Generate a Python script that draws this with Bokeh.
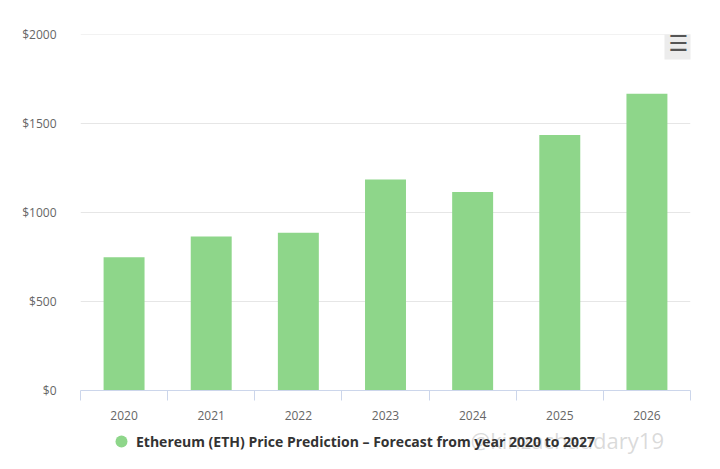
from bokeh.plotting import figure
from bokeh.layouts import column
from bokeh.models import ColumnDataSource, FixedTicker, PrintfTickFormatter, Legend, LegendItem, Label, Range1d
from bokeh.embed import file_html
from bokeh.resources import INLINE

years = ["2020", "2021", "2022", "2023", "2024", "2025", "2026"]
prices = [749, 866, 886, 1185, 1116, 1436, 1667]
y_ticks = [0, 500, 1000, 1500, 2000]
series_name = "Ethereum (ETH) Price Prediction \u2013 Forecast from year 2020 to 2027"
watermark = "@kinzachaudary19"

xpos = [i + 0.5 for i in range(len(years))]
src = ColumnDataSource(dict(x=xpos, y=prices, year=years))

FONT = "Open Sans"
GREEN = "#8ed68a"

p = figure(frame_width=610, frame_height=356, output_backend="svg", toolbar_location=None,
           x_range=Range1d(0, len(years)), y_range=Range1d(0, 2000.5),
           min_border_left=80, min_border_right=14, min_border_top=34, min_border_bottom=30)
p.outline_line_color = None
p.background_fill_color = "white"
p.border_fill_color = "white"

bars = p.vbar(x="x", top="y", width=0.47, source=src, fill_color=GREEN, line_color=None)

# x axis
xa = p.xaxis[0]
xa.ticker = FixedTicker(ticks=xpos, minor_ticks=list(range(len(years) + 1)))
xa.major_label_overrides = {x: y for x, y in zip(xpos, years)}
xa.major_tick_line_color = None
xa.major_tick_out = 0
xa.major_tick_in = 0
xa.minor_tick_out = 10
xa.minor_tick_in = 0
xa.minor_tick_line_color = "#ccd6eb"
xa.axis_line_color = "#ccd6eb"
xa.major_label_text_font = FONT
xa.major_label_text_font_size = "12px"
xa.major_label_text_color = "#666666"
xa.major_label_standoff = 10

# y axis
ya = p.yaxis[0]
ya.ticker = FixedTicker(ticks=y_ticks)
ya.formatter = PrintfTickFormatter(format="$%d")
ya.axis_line_color = None
ya.major_tick_line_color = None
ya.minor_tick_line_color = None
ya.major_label_text_font = FONT
ya.major_label_text_font_size = "12px"
ya.major_label_text_color = "#666666"
ya.major_label_standoff = 18

p.xgrid.grid_line_color = None
p.ygrid.grid_line_color = "#e6e6e6"
p.ygrid.ticker = FixedTicker(ticks=y_ticks)

menu = Label(x=584, y=331, x_units="screen", y_units="screen", text="\u2630",
             text_font="DejaVu Sans", text_font_size="22px", text_color="#555555",
             text_font_style="bold",
             background_fill_color="#ececec", border_line_color=None, padding=4)
p.add_layout(menu)

# legend strip below the chart (its frame is aligned with the chart frame)
lf = figure(width=704, height=40, output_backend="svg", toolbar_location=None,
            x_range=Range1d(-10, -9), y_range=Range1d(-10, -9),
            x_axis_location=None, y_axis_location=None, min_border=0)
lf.grid.visible = False
lf.outline_line_color = None
lf.border_fill_color = "white"
lf.background_fill_color = "white"
dot = lf.circle(x="x", y="y", radius=0, source=src, fill_color=GREEN, line_color=None)
legend = Legend(items=[LegendItem(label=series_name, renderers=[dot])],
                location=(26, 6), orientation="horizontal",
                border_line_color=None, background_fill_alpha=0,
                label_text_font=FONT, label_text_font_size="14px",
                label_text_font_style="bold", label_text_color="#333333",
                glyph_width=30, glyph_height=30, label_standoff=0,
                spacing=0, padding=2, margin=0)
lf.add_layout(legend, "center")

wm = Label(x=390, y=23, x_units="screen", y_units="screen", text=watermark,
           text_font="Open Sans", text_font_size="22px", text_color="#bbbbbb",
           text_alpha=0.55, text_baseline="middle")
lf.add_layout(wm)

open("out.html", "w").write(file_html(column(p, lf, spacing=0), INLINE))
